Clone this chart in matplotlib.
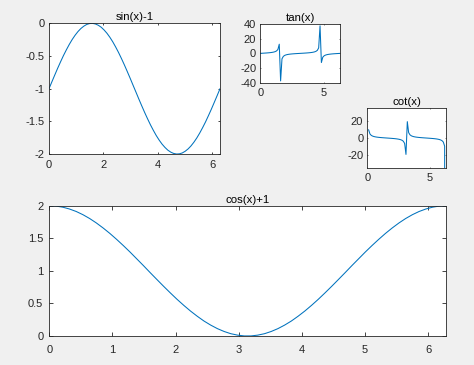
import matplotlib
matplotlib.use("Agg")
import matplotlib.pyplot as plt

# 60 samples from 0 to 2*pi
x = [0.000, 0.106, 0.213, 0.319, 0.426, 0.532, 0.639, 0.745, 0.852, 0.958,
     1.065, 1.171, 1.278, 1.384, 1.491, 1.597, 1.704, 1.810, 1.917, 2.023,
     2.130, 2.236, 2.343, 2.449, 2.556, 2.662, 2.769, 2.875, 2.982, 3.088,
     3.195, 3.301, 3.408, 3.514, 3.621, 3.727, 3.834, 3.940, 4.047, 4.153,
     4.260, 4.366, 4.473, 4.579, 4.686, 4.792, 4.899, 5.005, 5.112, 5.218,
     5.325, 5.431, 5.538, 5.644, 5.751, 5.857, 5.964, 6.070, 6.177, 6.283]

sin_m1 = [-1.000, -0.894, -0.789, -0.686, -0.587, -0.492, -0.404, -0.322, -0.247, -0.182,
          -0.125, -0.079, -0.043, -0.017, -0.003, -0.000, -0.009, -0.029, -0.059, -0.101,
          -0.152, -0.213, -0.283, -0.362, -0.447, -0.539, -0.636, -0.737, -0.841, -0.947,
          -1.053, -1.159, -1.263, -1.364, -1.461, -1.553, -1.638, -1.717, -1.787, -1.848,
          -1.899, -1.941, -1.971, -1.991, -2.000, -1.997, -1.983, -1.957, -1.921, -1.875,
          -1.818, -1.753, -1.678, -1.596, -1.508, -1.413, -1.314, -1.211, -1.106, -1.000]

tan_v = [0.000, 0.107, 0.216, 0.331, 0.454, 0.589, 0.743, 0.923, 1.143, 1.424,
         1.806, 2.370, 3.317, 5.303, 12.493, -37.55, -7.467, -4.094, -2.773, -2.056,
         -1.598, -1.274, -1.027, -0.829, -0.663, -0.520, -0.391, -0.273, -0.161, -0.053,
         0.053, 0.161, 0.273, 0.391, 0.520, 0.663, 0.829, 1.027, 1.274, 1.598,
         2.056, 2.773, 4.094, 7.467, 37.55, -12.493, -5.303, -3.317, -2.370, -1.806,
         -1.424, -1.143, -0.923, -0.743, -0.589, -0.454, -0.331, -0.216, -0.107, 0.000]

cot_v = [float("nan"), 9.355, 4.624, 3.023, 2.204, 1.697, 1.346, 1.083, 0.875, 0.702,
         0.554, 0.422, 0.302, 0.189, 0.080, -0.027, -0.134, -0.244, -0.361, -0.486,
         -0.626, -0.785, -0.974, -1.206, -1.507, -1.925, -2.558, -3.667, -6.207, -18.76,
         18.76, 6.207, 3.667, 2.558, 1.925, 1.507, 1.206, 0.974, 0.785, 0.626,
         0.486, 0.361, 0.244, 0.134, 0.027, -0.080, -0.189, -0.302, -0.422, -0.554,
         -0.702, -0.875, -1.083, -1.346, -1.697, -2.204, -3.023, -4.624, -9.355, -1.0e4]

cos_p1 = [2.000, 1.994, 1.977, 1.949, 1.911, 1.862, 1.803, 1.735, 1.658, 1.575,
          1.484, 1.389, 1.289, 1.185, 1.080, 0.973, 0.867, 0.763, 0.661, 0.563,
          0.470, 0.383, 0.303, 0.230, 0.167, 0.113, 0.069, 0.035, 0.013, 0.001,
          0.001, 0.013, 0.035, 0.069, 0.113, 0.167, 0.230, 0.303, 0.383, 0.470,
          0.563, 0.661, 0.763, 0.867, 0.973, 1.080, 1.185, 1.289, 1.389, 1.484,
          1.575, 1.658, 1.735, 1.803, 1.862, 1.911, 1.949, 1.977, 1.994, 2.000]

titles = ["sin(x)-1", "tan(x)", "cot(x)", "cos(x)+1"]
xmax = 6.2832

plt.rcParams['font.family'] = ['Liberation Sans', 'DejaVu Sans']
LINE = '#0072BD'
AXC = '#262626'
BG = '#f0f0f0'

fig = plt.figure(figsize=(4.74, 3.65), dpi=100, facecolor=BG)

def style(ax, ticklen, xpad, ypad):
    ax.set_facecolor('white')
    for s in ax.spines.values():
        s.set_color(AXC)
        s.set_linewidth(0.6)
    ax.tick_params(direction='in', length=ticklen, width=0.6, color=AXC,
                   labelcolor=AXC, labelsize=8, top=True, right=True)
    ax.tick_params(axis='x', pad=xpad)
    ax.tick_params(axis='y', pad=ypad)

panels = [
    ([0.1034, 0.578, 0.3608, 0.358], sin_m1, titles[0], (-2, 0), [0, 2, 4, 6],
     [-2, -1.5, -1, -0.5, 0], ['-2', '-1.5', '-1', '-0.5', '0'], 1.2, 4.3, 2.9),
    ([0.549, 0.7734, 0.1692, 0.1608], tan_v, titles[1], (-40, 40), [0, 5],
     [-40, -20, 0, 20, 40], ['-40', '-20', '0', '20', '40'], 0.6, 4.0, 2.9),
    ([0.7749, 0.5405, 0.166, 0.1627], cot_v, titles[2], (-34, 34), [0, 5],
     [-20, 0, 20], ['-20', '0', '20'], 0.6, 4.0, 2.9),
    ([0.104, 0.0795, 0.837, 0.357], cos_p1, titles[3], (0, 2), [0, 1, 2, 3, 4, 5, 6],
     [0, 0.5, 1, 1.5, 2], ['0', '0.5', '1', '1.5', '2'], 2.9, 6.5, 4.3),
]

for rect, y, title, ylim, xt, yt, ytl, tl, xpad, ypad in panels:
    ax = fig.add_axes(rect)
    ax.plot(x, y, color=LINE, linewidth=0.75)
    ax.set_xlim(0, xmax)
    ax.set_ylim(*ylim)
    ax.set_xticks(xt)
    ax.set_xticklabels([str(v) for v in xt])
    ax.set_yticks(yt)
    ax.set_yticklabels(ytl)
    ax.set_title(title, fontsize=8.2, color='black', pad=2.2)
    style(ax, tl, xpad, ypad)

fig.savefig('out.png', dpi=100, facecolor=BG)
